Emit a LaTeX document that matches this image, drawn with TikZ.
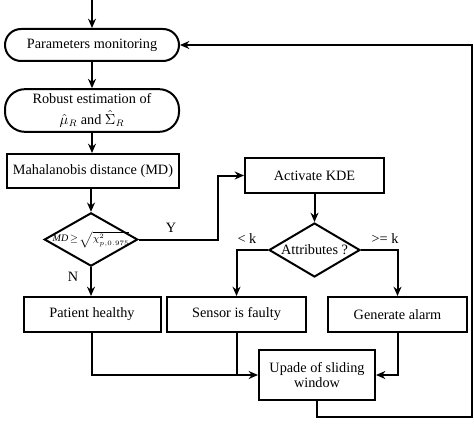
\documentclass[tikz,border=0pt]{standalone}
\usepackage{fontspec}
\setmainfont{Liberation Serif}
\usetikzlibrary{shapes.geometric,arrows.meta}
\begin{document}
\begin{tikzpicture}[x=0.75pt,y=-0.75pt, line width=1.5pt,
 every node/.style={font=\fontsize{10.7}{12.5}\selectfont},
 box/.style={draw, rectangle, inner sep=1pt, align=center},
 stad/.style={draw, rectangle, align=center},
 dia/.style={draw, diamond, inner sep=0pt},
 arr/.style={-{Stealth[length=7pt,width=6pt]}},
 lbl/.style={inner sep=0pt}]
\useasboundingbox (0,0) rectangle (474,424);
\coordinate (top) at (92,0);
\node[stad, rounded corners=12pt, minimum width=130.5pt, minimum height=24pt] (par) at (92,45) {Parameters monitoring};
\node[stad, rounded corners=15pt, minimum width=130.5pt, minimum height=32pt, inner sep=0pt] (rob) at (92,110.5) {Robust estimation of\\[3pt] $\hat{\mu}_R$ and $\hat{\Sigma}_R$};
\node[box, minimum width=129pt, minimum height=25.5pt] (mah) at (93,171) {Mahalanobis distance (MD)};
\node[dia, minimum width=70pt, minimum height=40pt] (d1) at (91,239.5) {};
\node[lbl] (t1) at (d1.center) {\fontsize{7.5}{8}\selectfont\textit{MD}\,$\geq\!\sqrt{\chi^{2}_{\scriptscriptstyle p,0.975}}$};
\node[box, minimum width=104.25pt, minimum height=26.25pt] (kde) at (314.5,175.5) {Activate KDE};
\node[dia, minimum width=68.25pt, minimum height=40.5pt] (d2) at (314.5,250) {};
\node[lbl] (t2) at (d2.center) {Attributes ?};
\node[box, minimum width=102.75pt, minimum height=26.25pt] (pat) at (92,314.5) {Patient healthy};
\node[box, minimum width=104.25pt, minimum height=26.25pt] (sen) at (236.5,314.5) {Sensor is faulty};
\node[box, minimum width=104.25pt, minimum height=26.25pt] (gen) at (397.5,314.5) {Generate alarm};
\node[box, minimum width=87pt, minimum height=37.5pt] (upd) at (317,375) {Upade of sliding\\[-1pt] window};
\node[lbl] (ly) at (171,228) {Y};
\node[lbl] (ln) at (73,277) {N};
\node[lbl] (llk) at (247,239) {< k};
\node[lbl] (lgk) at (385,239) {>= k};
\coordinate (c1) at (218,239.5);
\coordinate (fb) at (472,417);
\draw[arr] (top) -- (par.north);
\draw[arr] (par.south) -- (rob.north);
\draw[arr] (rob.south) -- (rob.south |- mah.north);
\draw[arr] (mah.south -| d1.north) -- (d1.north);
\draw[arr] (d1.south) -- (d1.south |- pat.north);
\draw[arr] (d1.east) -- (c1) |- (kde.west);
\draw[arr] (kde.south) -- (d2.north);
\draw[arr] (d2.west) -| (sen.north);
\draw[arr] (d2.east) -| (gen.north);
\draw[arr] (pat.south) |- (upd.west);
\draw (sen.south) -- (sen.south |- upd.west);
\draw[arr] (gen.south) |- (upd.east);
\draw[arr] (upd.south) |- (fb) |- (par.east);
\end{tikzpicture}
\end{document}
